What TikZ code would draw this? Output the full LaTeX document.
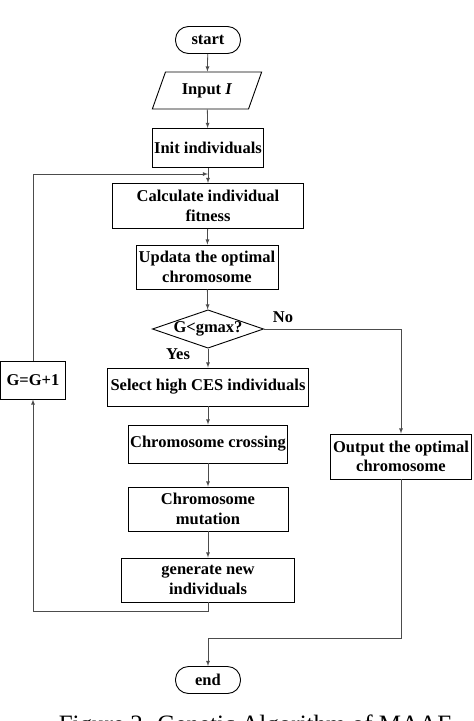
\documentclass[tikz,border=0pt]{standalone}
\usepackage{fontspec}
\setmainfont{Liberation Serif}
\usetikzlibrary{shapes.geometric}

\begin{document}
\begin{tikzpicture}[x=1pt,y=-1pt,
    font=\bfseries\fontsize{16.5}{19.5}\selectfont,
    box/.style={draw, line width=0.9pt, align=center, inner sep=1pt},
    term/.style={box, rounded corners=13pt, minimum width=65pt, minimum height=27pt},
    io/.style={box, trapezium, trapezium left angle=63, trapezium right angle=117,
        trapezium stretches=true, minimum width=110pt, minimum height=37pt},
    cond/.style={box, diamond, aspect=2.9, inner sep=0pt, minimum width=111pt, minimum height=38pt},
    line/.style={line width=0.8pt, black!70},
    arr/.style={line, -latex}]
    \useasboundingbox (0,0) rectangle (474,721);
            \node[term] (start) at (208,40) {start};
            \node[io] (input) at (207,90.5) {Input \textit{I}};
            \node[box, minimum width=111pt, minimum height=39pt] (init) at (208,148) {Init individuals};
            \node[box, minimum width=191pt, minimum height=45pt] (calc) at (208,206) {Calculate individual\\fitness};
            \node[box, minimum width=142pt, minimum height=44pt] (upd) at (207,267) {Updata the optimal\\chromosome};
            \node[cond] (cmp) at (208,329) {G<gmax?};
            \node[box, minimum width=201pt, minimum height=38pt] (sel) at (208,387) {Select high CES individuals};
            \node[box, minimum width=159pt, minimum height=38pt] (cross) at (208,444) {Chromosome crossing};
            \node[box, minimum width=160pt, minimum height=44pt] (mut) at (208,509) {Chromosome\\mutation};
            \node[box, minimum width=173pt, minimum height=44pt] (gen) at (208,580) {generate new\\individuals};
            \node[box, minimum width=65pt, minimum height=38pt] (inc) at (33,380) {G=G+1};
            \node[box, minimum width=141pt, minimum height=45pt] (out) at (401,456.5) {Output the optimal\\chromosome};
            \node[term] (end) at (208,680) {end};
            \node at (283,317) {No};
            \node at (178,354) {Yes};
            \coordinate (loop) at (208,174);
            \draw[arr] (start) -- (input);
            \draw[arr] (input) -- (init);
            \draw[arr] (init) -- (calc);
            \draw[arr] (calc) -- (upd);
            \draw[arr] (upd) -- (cmp);
            \draw[arr] (cmp) -- (sel);
            \draw[arr] (sel) -- (cross);
            \draw[arr] (cross) -- (mut);
            \draw[arr] (mut) -- (gen);
            \draw[arr] (gen.south) -- ++(0,9) -| (inc.south);
            \draw[arr] (inc.north) |- (loop);
            \draw[arr] (cmp.east) -| (out.north);
            \draw[arr] (out.south) |- (208,638) -- (end.north);
            \node[font=\fontsize{25}{29}\selectfont, anchor=base] (cap) at (255,732) {Figure 2. Genetic Algorithm of MAAF};
        \end{tikzpicture}
\end{document}
